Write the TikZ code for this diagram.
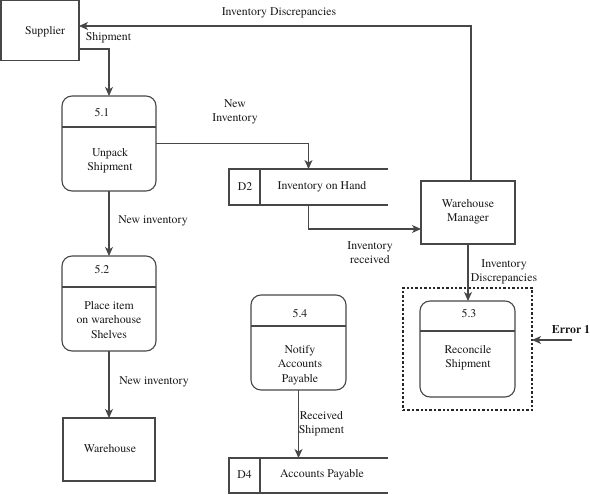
\documentclass[tikz,border=0pt]{standalone}
\usepackage{fontspec}
\setmainfont{TeX Gyre Termes}
\usetikzlibrary{arrows.meta}
\begin{document}
\begin{tikzpicture}[x=1pt,y=-1pt,
  every node/.style={font=\fontsize{11.8}{14.5}\selectfont, text=black!90, inner sep=0pt, outer sep=0pt},
  ln/.style={draw=black!72, line width=1.1pt},
  arr/.style={ln, -{Stealth[length=9pt,width=8pt,inset=2.5pt]}},
  ent/.style={ln, rectangle},
  proc/.style={ln, rectangle, rounded corners=10pt},
  lbl/.style={align=center},
  boldlbl/.style={font=\fontsize{11.8}{14.5}\selectfont\bfseries},
  errframe/.style={draw=black!85, line width=1.5pt, dash pattern=on 2.4pt off 2pt}
]
\useasboundingbox (0,0) rectangle (590,495);

% external entities
\node[ent, minimum width=78pt, minimum height=60pt] (sup) at (40,30.5) {};
\node (suptxt) at (45,32) {Supplier};
\node[ent, minimum width=94pt, minimum height=63pt] (wm) at (468,212.5) {};
\node[lbl] (wmtxt) at (468,212) {Warehouse\\Manager};
\node[ent, minimum width=92pt, minimum height=63pt] (wh) at (109,449.5) {};
\node (whtxt) at (110,449) {Warehouse};

% processes
\node[proc, minimum width=94pt, minimum height=95pt] (p51) at (109,143.5) {};
\draw[ln] (p51.west |- 0,127) -- (p51.east |- 0,127);
\node (p51n) at (102,113) {5.1};
\node[lbl] (p51t) at (110,161) {Unpack\\Shipment};

\node[proc, minimum width=94pt, minimum height=95pt] (p52) at (109,303.5) {};
\draw[ln] (p52.west |- 0,287) -- (p52.east |- 0,287);
\node (p52n) at (102,270) {5.2};
\node[lbl] (p52t) at (109,320) {Place item\\on warehouse\\Shelves};

\node[proc, minimum width=95pt, minimum height=95pt] (p54) at (298.5,342.5) {};
\draw[ln] (p54.west |- 0,326) -- (p54.east |- 0,326);
\node (p54n) at (300,314) {5.4};
\node[lbl] (p54t) at (300,365) {Notify\\Accounts\\Payable};

\node[proc, minimum width=95pt, minimum height=96pt] (p53) at (467.5,349) {};
\draw[ln] (p53.west |- 0,331) -- (p53.east |- 0,331);
\node (p53n) at (469,314) {5.3};
\node[lbl] (p53t) at (468,357.5) {Reconcile\\Shipment};

\node[errframe, rectangle, minimum width=129pt, minimum height=122pt] (errbox) at (467.5,349) {};

% data stores
\node[minimum width=159pt, minimum height=36pt] (d2) at (308.5,187) {};
\draw[ln] (d2.north east) -- (d2.north west) -- (d2.south west) -- (d2.south east);
\draw[ln] ([xshift=31pt]d2.north west) -- ([xshift=31pt]d2.south west);
\node (d2id) at (245,187) {D2};
\node (d2t) at (322,187) {Inventory on Hand};

\node[minimum width=159pt, minimum height=35pt] (d4) at (308.5,475.5) {};
\draw[ln] (d4.north east) -- (d4.north west) -- (d4.south west) -- (d4.south east);
\draw[ln] ([xshift=31pt]d4.north west) -- ([xshift=31pt]d4.south west);
\node (d4id) at (244.5,475) {D4};
\node (d4t) at (322,475) {Accounts Payable};

% connectors
\draw[arr] ([yshift=-18.5pt]sup.east) -| (p51.north);
\draw[arr] ([xshift=3pt]wm.north) |- ([yshift=4.5pt]sup.east);
\draw[arr] (p51.east) -| (d2.north);
\draw[arr] (d2.south) |- ([yshift=-16.5pt]wm.west);
\draw[arr] (wm.south) -- (wm.south |- p53.north);
\draw[arr] (p51.south) -- (p52.north);
\draw[arr] (p52.south) -- (wh.north);
\draw[arr] (p54.south) -- (p54.south |- d4.north);
\coordinate (e1) at (572,340);
\draw[arr] (e1) -- (errbox.east |- e1);

% labels
\node[boldlbl] (e1t) at (571,330) {Error 1};
\node (l1) at (108.5,38) {Shipment};
\node (l2) at (279,13) {Inventory Discrepancies};
\node[lbl] (l3) at (235,112) {New\\Inventory};
\node (l4) at (153,221) {New inventory};
\node[lbl] (l5) at (370,252.5) {Inventory\\received};
\node[lbl] (l6) at (504,272) {Inventory\\Discrepancies};
\node (l7) at (154,382) {New inventory};
\node[lbl] (l8) at (321.5,423.5) {Received\\Shipment};
\end{tikzpicture}
\end{document}
